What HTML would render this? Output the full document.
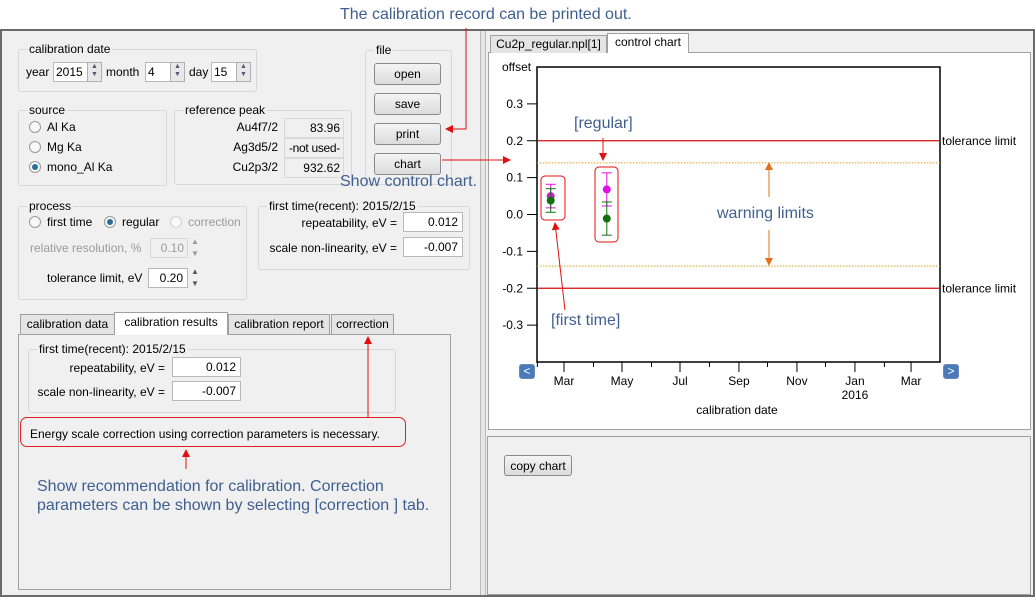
<!DOCTYPE html>
<html><head><meta charset="utf-8">
<style>
*{box-sizing:border-box;margin:0;padding:0}
body{width:1035px;height:597px;position:relative;overflow:hidden;background:#fff;font-family:"Liberation Sans",sans-serif;font-size:12px;color:#000}
.a{position:absolute}
.win{left:0;top:29px;width:1035px;height:568px;background:#f0f0f0;border:2px solid #6a6a6a}
.grp{position:absolute;border:1px solid #d8d8d8;border-radius:3px}
.lg{position:absolute;top:-8px;left:8px;background:#f0f0f0;padding:0 2px;font-size:12px;line-height:14px}
.in{position:absolute;background:#fff;border:1px solid #b8b8b8;text-align:right;padding-right:4px;font-size:12px;line-height:18px;white-space:nowrap}
.ro{position:absolute;background:#f0f0f0;border:1px solid #d8d8d8;text-align:right;padding-right:3px;font-size:12px;line-height:18px;white-space:nowrap;overflow:hidden}
.btn{position:absolute;border:1px solid #8a8a8a;border-radius:3px;background:linear-gradient(#f4f4f4,#dcdcdc);text-align:center;font-size:12px;line-height:20px}
.rad{position:absolute;width:12px;height:12px;border:1px solid #9a9a9a;border-radius:50%;background:#f8f8f8}
.rad.on::after{content:"";position:absolute;left:2px;top:2px;width:6px;height:6px;border-radius:50%;background:#2a6f9a}
.t{position:absolute;white-space:nowrap;line-height:14px}
.spin{position:absolute;width:15px;border:1px solid #b0b0b0;background:#e8e8e8;font-size:7px;text-align:center;line-height:8px;color:#557}
.tab{position:absolute;border:1px solid #a0a0a0;border-bottom:none;background:#e4e4e4;text-align:center;font-size:12px;line-height:18px}
.blue{color:#3f5f90;font-size:16px}
.gray{color:#9a9a9a}
</style></head><body>
<div class="a win"></div>
<div class="t blue" style="left:340px;top:8px">The calibration record can be printed out.</div>

<div class="grp" style="left:18px;top:49px;width:239px;height:43px"><div class="lg">calibration date</div></div>
<div class="t" style="left:26px;top:65px">year</div>
<div class="in" style="left:53px;top:62px;width:35px;height:20px;text-align:left;padding-left:2px">2015</div>
<div class="spin" style="left:87px;top:62px;height:20px">▲<br>▼</div>
<div class="t" style="left:106px;top:65px">month</div>
<div class="in" style="left:145px;top:62px;width:26px;height:20px;text-align:left;padding-left:2px">4</div>
<div class="spin" style="left:170px;top:62px;height:20px">▲<br>▼</div>
<div class="t" style="left:189px;top:65px">day</div>
<div class="in" style="left:211px;top:62px;width:26px;height:20px;text-align:left;padding-left:2px">15</div>
<div class="spin" style="left:236px;top:62px;height:20px">▲<br>▼</div>

<div class="grp" style="left:365px;top:50px;width:87px;height:135px"><div class="lg">file</div></div>
<div class="btn" style="left:374px;top:63px;width:67px;height:22px">open</div>
<div class="btn" style="left:374px;top:93px;width:67px;height:22px">save</div>
<div class="btn" style="left:374px;top:123px;width:67px;height:22px">print</div>
<div class="btn" style="left:374px;top:153px;width:67px;height:22px">chart</div>

<div class="grp" style="left:18px;top:110px;width:149px;height:76px"><div class="lg">source</div></div>
<div class="rad" style="left:29px;top:121px"></div><div class="t" style="left:47px;top:120px">Al Ka</div>
<div class="rad" style="left:29px;top:141px"></div><div class="t" style="left:47px;top:140px">Mg Ka</div>
<div class="rad on" style="left:29px;top:161px"></div><div class="t" style="left:47px;top:160px">mono_Al Ka</div>

<div class="grp" style="left:174px;top:110px;width:178px;height:75px"><div class="lg">reference peak</div></div>
<div class="t" style="left:218px;top:120px;width:60px;text-align:right">Au4f7/2</div>
<div class="ro" style="left:284px;top:118px;width:60px;height:20px">83.96</div>
<div class="t" style="left:218px;top:140px;width:60px;text-align:right">Ag3d5/2</div>
<div class="ro" style="left:284px;top:138px;width:60px;height:20px;letter-spacing:-0.3px">-not used-</div>
<div class="t" style="left:218px;top:160px;width:60px;text-align:right">Cu2p3/2</div>
<div class="ro" style="left:284px;top:158px;width:60px;height:20px">932.62</div>
<div class="t blue" style="left:340px;top:175px">Show control chart.</div>

<div class="grp" style="left:18px;top:206px;width:229px;height:94px"><div class="lg">process</div></div>
<div class="rad" style="left:29px;top:216px"></div><div class="t" style="left:47px;top:215px">first time</div>
<div class="rad on" style="left:104px;top:216px"></div><div class="t" style="left:122px;top:215px">regular</div>
<div class="rad" style="left:170px;top:216px;border-color:#d0d0d0"></div><div class="t gray" style="left:188px;top:215px">correction</div>
<div class="t gray" style="left:30px;top:241px">relative resolution, %</div>
<div class="ro gray" style="left:150px;top:238px;width:38px;height:20px;color:#9a9a9a">0.10</div>
<div class="t gray" style="left:191px;top:236px;font-size:8px;line-height:12px">▲<br>▼</div>
<div class="t" style="left:47px;top:271px">tolerance limit, eV</div>
<div class="in" style="left:148px;top:268px;width:40px;height:20px">0.20</div>
<div class="t" style="left:191px;top:266px;font-size:8px;line-height:12px;color:#555">▲<br>▼</div>

<div class="grp" style="left:258px;top:206px;width:212px;height:64px"><div class="lg">first time(recent): 2015/2/15</div></div>
<div class="t" style="left:260px;top:216px;width:137px;text-align:right">repeatability, eV =</div>
<div class="in" style="left:403px;top:212px;width:60px;height:20px">0.012</div>
<div class="t" style="left:260px;top:241px;width:137px;text-align:right">scale non-linearity, eV =</div>
<div class="in" style="left:403px;top:237px;width:60px;height:20px">-0.007</div>

<div class="a" style="left:18px;top:334px;width:433px;height:256px;border:1px solid #a0a0a0;background:#f0f0f0"></div>
<div class="tab" style="left:20px;top:314px;width:95px;height:20px">calibration data</div>
<div class="tab" style="left:114px;top:312px;width:114px;height:23px;background:#fff">calibration results</div>
<div class="tab" style="left:228px;top:314px;width:102px;height:20px">calibration report</div>
<div class="tab" style="left:331px;top:314px;width:63px;height:20px">correction</div>
<div class="grp" style="left:28px;top:349px;width:368px;height:64px"><div class="lg">first time(recent): 2015/2/15</div></div>
<div class="t" style="left:30px;top:361px;width:135px;text-align:right">repeatability, eV =</div>
<div class="in" style="left:172px;top:357px;width:69px;height:20px">0.012</div>
<div class="t" style="left:30px;top:385px;width:135px;text-align:right">scale non-linearity, eV =</div>
<div class="in" style="left:172px;top:381px;width:69px;height:20px">-0.007</div>
<div class="a" style="left:20px;top:417px;width:386px;height:30px;border:1px solid #e02020;border-radius:7px"></div>
<div class="t" style="left:30px;top:427px">Energy scale correction using correction parameters is necessary.</div>
<div class="t blue" style="left:37px;top:477px;line-height:19px">Show recommendation for calibration. Correction<br>parameters can be shown by selecting [correction ] tab.</div>

<div class="a" style="left:480px;top:31px;width:6px;height:564px;background:#e6e6e6;border-left:1px solid #bbb;border-right:1px solid #bbb"></div>

<div class="a" style="left:488px;top:52px;width:543px;height:378px;background:#fff;border:1px solid #a0a0a0"></div>
<div class="tab" style="left:490px;top:35px;width:117px;height:18px;line-height:17px">Cu2p_regular.npl[1]</div>
<div class="tab" style="left:607px;top:33px;width:82px;height:20px;background:#fff;line-height:17px">control chart</div>
<div class="a" style="left:487px;top:436px;width:544px;height:159px;border:1px solid #a0a0a0;background:#f0f0f0"></div>
<div class="btn" style="left:504px;top:455px;width:68px;height:21px">copy chart</div>
<div class="btn" style="left:519px;top:364px;width:16px;height:15px;background:#4a7ab8;color:#fff;line-height:13px;border-color:#6a8ab8">&lt;</div>
<div class="btn" style="left:943px;top:364px;width:16px;height:15px;background:#4a7ab8;color:#fff;line-height:13px;border-color:#6a8ab8">&gt;</div>

<svg class="a" style="left:0;top:0" width="1035" height="597" id="chart" font-family="Liberation Sans, sans-serif"></svg>

<script>
const yTicks=[0.3,0.2,0.1,0.0,-0.1,-0.2,-0.3];
const xTickLabels=["Mar","May","Jul","Sep","Nov","Jan","Mar"];
const xTickMonths=[2,4,6,8,10,12,14];
const pointDays=[45,104];
const magentaVals=[0.05,0.068];
const magentaErr=[0.032,0.045];
const greenVals=[0.038,-0.011];
const greenErr=[0.032,0.045];
const toleranceLimit=0.2;
const warningLimit=0.14;

const NS="http://www.w3.org/2000/svg";
const svg=document.getElementById('chart');
const L=537,R=940,T=67,B=362;
const ymin=-0.4,ymax=0.4;
const y=v=>T+(ymax-v)/(ymax-ymin)*(B-T);
const pxPerDay=58/61, mar1=59;
const x=d=>564+(d-mar1)*pxPerDay;
const monthStart=m=>[0,31,59,90,120,151,181,212,243,273,304,334,365,396,424][m];
function el(tag,attrs,txt){const e=document.createElementNS(NS,tag);for(const k in attrs)e.setAttribute(k,attrs[k]);if(txt!==undefined)e.textContent=txt;svg.appendChild(e);return e;}

let f=el('rect',{x:L,y:T,width:R-L,height:B-T,fill:'#fff',stroke:'#000','stroke-width':1.5});


let t=el('text',{x:502,y:71,'font-size':12},'offset');


yTicks.forEach(v=>{
  el('line',{x1:L-10,x2:L,y1:y(v),y2:y(v),stroke:'#000'});
  const tt=el('text',{x:L-14,y:y(v)+4,'font-size':12,'text-anchor':'end'},v.toFixed(1));
  
  
});
for(let m=1;m<=14;m++){
  const xx=x(monthStart(m));
  if(xx<L||xx>R)continue;
  const major=xTickMonths.includes(m);
  el('line',{x1:xx,x2:xx,y1:B,y2:B+(major?10:5),stroke:'#000'});
}
xTickLabels.forEach((lab,i)=>{
  const tt=el('text',{x:x(monthStart(xTickMonths[i])),y:385,'font-size':12,'text-anchor':'middle'},lab);
  
  
});
el('text',{x:x(monthStart(12)),y:399,'font-size':12,'text-anchor':'middle'},'2016');
t=el('text',{x:737,y:414,'font-size':12,'text-anchor':'middle'},'calibration date');



[toleranceLimit,-toleranceLimit].forEach(v=>{
  const l=el('line',{x1:L,x2:R,y1:y(v),y2:y(v),stroke:'#d01010','stroke-width':1.2});
  
  
  const tt=el('text',{x:942,y:y(v)+4,'font-size':12},'tolerance limit');
  
  
});
[warningLimit,-warningLimit].forEach(v=>{
  const l=el('line',{x1:L,x2:R,y1:y(v),y2:y(v),stroke:'#e0a020','stroke-dasharray':'1.5,1.5'});
  
  
});
function series(vals,errs,color,name){
  vals.forEach((v,i)=>{
    const xx=x(pointDays[i]);
    const g=el('line',{x1:xx,x2:xx,y1:y(v+errs[i]),y2:y(v-errs[i]),stroke:color});
    
    
    el('line',{x1:xx-5,x2:xx+5,y1:y(v+errs[i]),y2:y(v+errs[i]),stroke:color});
    el('line',{x1:xx-5,x2:xx+5,y1:y(v-errs[i]),y2:y(v-errs[i]),stroke:color});
    const c=el('circle',{cx:xx,cy:y(v),r:4,fill:color});
    
    
  });
}
series(magentaVals,magentaErr,'#e010e0','magenta');
series(greenVals,greenErr,'#107010','green');

const red='#e01010';
el('defs',{}).innerHTML='<marker id="ar" markerWidth="8" markerHeight="8" refX="7" refY="4" orient="auto"><path d="M0,0L8,4L0,8z" fill="#e01010"/></marker><marker id="ao" markerWidth="8" markerHeight="8" refX="7" refY="4" orient="auto"><path d="M0,0L8,4L0,8z" fill="#e07020"/></marker>';
el('rect',{x:541,y:176,width:24,height:44,rx:4,fill:'none',stroke:red});
el('rect',{x:595,y:167,width:23,height:75,rx:4,fill:'none',stroke:red});
t=el('text',{x:574,y:128,'font-size':16,fill:'#3f5f90'},'[regular]');


el('line',{x1:603,y1:138,x2:603,y2:160,stroke:red,'marker-end':'url(#ar)'});
t=el('text',{x:551,y:325,'font-size':16,fill:'#3f5f90'},'[first time]');


el('line',{x1:565,y1:310,x2:555,y2:223,stroke:red,'marker-end':'url(#ar)'});
t=el('text',{x:717,y:218,'font-size':16,fill:'#3f5f90'},'warning limits');


el('line',{x1:769,y1:197,x2:769,y2:163,stroke:'#e07020','marker-end':'url(#ao)'});
el('line',{x1:769,y1:230,x2:769,y2:265,stroke:'#e07020','marker-end':'url(#ao)'});
el('polyline',{points:'466,28 466,129 446,129',fill:'none',stroke:red,'marker-end':'url(#ar)'});
el('line',{x1:442,y1:160,x2:510,y2:160,stroke:red,'marker-end':'url(#ar)'});
el('line',{x1:368,y1:417,x2:368,y2:337,stroke:red,'marker-end':'url(#ar)'});
el('line',{x1:186,y1:469,x2:186,y2:450,stroke:red,'marker-end':'url(#ar)'});
</script>
</body></html>
